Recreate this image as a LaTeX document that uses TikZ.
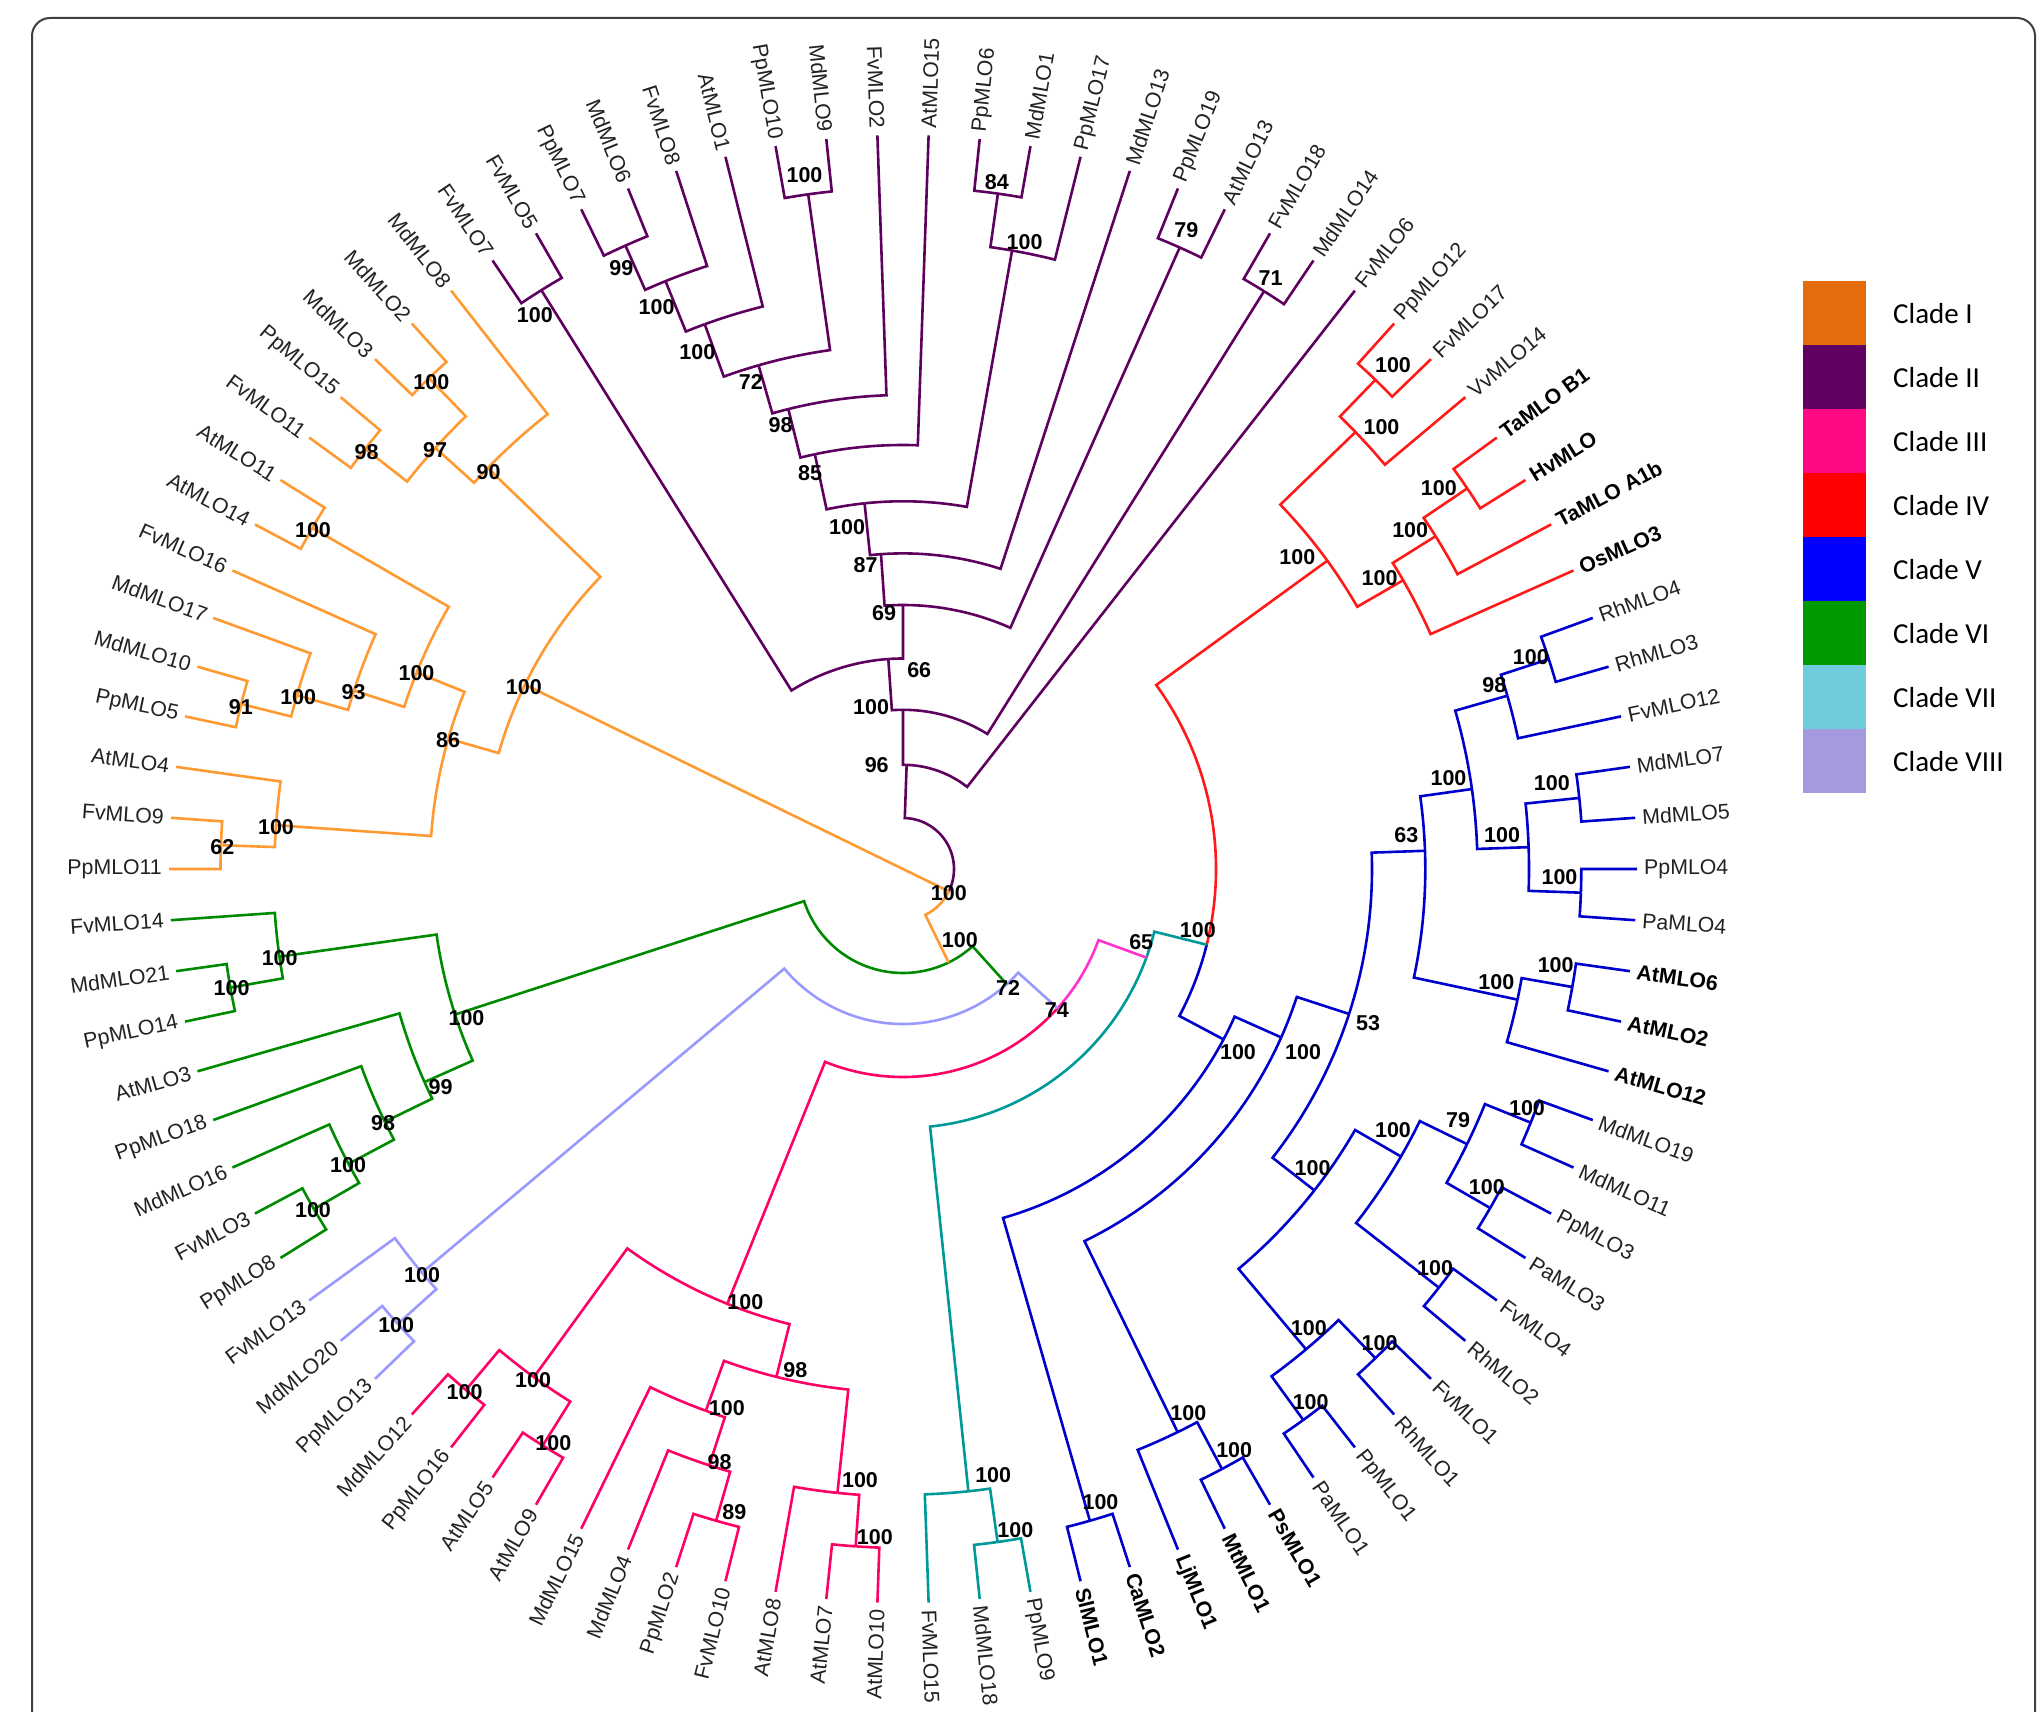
\documentclass[tikz,border=0pt]{standalone}
\usepackage{fontspec}
\setmainfont{Liberation Sans}
\newfontfamily\legfont{Carlito}
\definecolor{tOr}{HTML}{FF9A33}
\definecolor{tPu}{HTML}{5E005E}
\definecolor{tPk}{HTML}{FF0066}
\definecolor{tMg}{HTML}{FF33CC}
\definecolor{tRd}{HTML}{FF1A1A}
\definecolor{tBl}{HTML}{0000CC}
\definecolor{tGn}{HTML}{008A00}
\definecolor{tTl}{HTML}{009999}
\definecolor{tLv}{HTML}{9999FF}
\definecolor{gI}{HTML}{E46C0A}
\definecolor{gII}{HTML}{600060}
\definecolor{gIII}{HTML}{FF0A84}
\definecolor{gIV}{HTML}{FF0000}
\definecolor{gV}{HTML}{0000FF}
\definecolor{gVI}{HTML}{009900}
\definecolor{gVII}{HTML}{70CCDD}
\definecolor{gVIII}{HTML}{A39BDD}
\definecolor{labtext}{HTML}{222222}
\tikzset{
  br/.style={line width=2.6pt},
  cI/.style={br,draw=tOr}, cII/.style={br,draw=tPu}, cIII/.style={br,draw=tPk},
  cMg/.style={br,draw=tMg}, cIV/.style={br,draw=tRd}, cV/.style={br,draw=tBl},
  cVI/.style={br,draw=tGn}, cVII/.style={br,draw=tTl}, cVIII/.style={br,draw=tLv},
  leaflab/.style={font=\fontsize{21.3}{25}\selectfont, inner sep=0pt, text=labtext},
  boldlab/.style={font=\bfseries\fontsize{21.3}{25}\selectfont, text=black},
  bslab/.style={font=\bfseries\fontsize{21.5}{25}\selectfont, inner sep=0pt},
}
\newcommand\leaf[4][]{%
  \pgfmathsetmacro\tLa{180-4*#2}%
  \expandafter\xdef\csname A:#3\endcsname{\tLa}%
  \expandafter\xdef\csname L:#3\endcsname{\tLa}%
  \expandafter\xdef\csname H:#3\endcsname{\tLa}%
  \coordinate (#3) at (\tLa:734);
  \pgfmathparse{and(\tLa>-90,\tLa<90)}%
  \ifdim\pgfmathresult pt>0.5pt
    \node[leaflab,#1,anchor=west,rotate=\tLa] (t#3) at (\tLa:741) {#4};
  \else
    \pgfmathsetmacro\tLb{\tLa+180}%
    \node[leaflab,#1,anchor=east,rotate=\tLb] (t#3) at (\tLa:741) {#4};
  \fi
}
\newcommand\inode[6]{%
  \edef\tA{\csname A:#2\endcsname}%
  \edef\tB{\csname A:#3\endcsname}%
  \pgfmathsetmacro\tLo{min(\csname L:#2\endcsname,\csname L:#3\endcsname)}%
  \pgfmathsetmacro\tHi{max(\csname H:#2\endcsname,\csname H:#3\endcsname)}%
  \pgfmathsetmacro\tM{(\tLo+\tHi)/2}%
  \expandafter\xdef\csname A:#1\endcsname{\tM}%
  \expandafter\xdef\csname L:#1\endcsname{\tLo}%
  \expandafter\xdef\csname H:#1\endcsname{\tHi}%
  \coordinate (#1) at (\tM:#4);
  \draw[#5] (#2) -- (\tA:#4) arc[start angle=\tA, end angle=\tM, radius=#4pt];
  \draw[#6] (#3) -- (\tB:#4) arc[start angle=\tB, end angle=\tM, radius=#4pt];
}
\newcommand\bsv[4]{\node[bslab] (#1) at (#2,-#3) {#4};}
\begin{document}
\begin{tikzpicture}[x=1pt,y=1pt]
\useasboundingbox (0,0) rectangle (2043,-1712);
\fill[white] (0,0) rectangle (2043,-1712);
\draw[line width=2pt, draw=black!75, rounded corners=18pt] (32,-18) rectangle (2035,-1780);
\begin{scope}[shift={(903,-869)}]
% leaves
\leaf{0}{PpMLO11}{PpMLO11}
\leaf{1}{FvMLO9}{FvMLO9}
\leaf{2}{AtMLO4}{AtMLO4}
\leaf{3}{PpMLO5}{PpMLO5}
\leaf{4}{MdMLO10}{MdMLO10}
\leaf{5}{MdMLO17}{MdMLO17}
\leaf{6}{FvMLO16}{FvMLO16}
\leaf{7}{AtMLO14}{AtMLO14}
\leaf{8}{AtMLO11}{AtMLO11}
\leaf{9}{FvMLO11}{FvMLO11}
\leaf{10}{PpMLO15}{PpMLO15}
\leaf{11}{MdMLO3}{MdMLO3}
\leaf{12}{MdMLO2}{MdMLO2}
\leaf{13}{MdMLO8}{MdMLO8}
\leaf{14}{FvMLO7}{FvMLO7}
\leaf{15}{FvMLO5}{FvMLO5}
\leaf{16}{PpMLO7}{PpMLO7}
\leaf{17}{MdMLO6}{MdMLO6}
\leaf{18}{FvMLO8}{FvMLO8}
\leaf{19}{AtMLO1}{AtMLO1}
\leaf{20}{PpMLO10}{PpMLO10}
\leaf{21}{MdMLO9}{MdMLO9}
\leaf{22}{FvMLO2}{FvMLO2}
\leaf{23}{AtMLO15}{AtMLO15}
\leaf{24}{PpMLO6}{PpMLO6}
\leaf{25}{MdMLO1}{MdMLO1}
\leaf{26}{PpMLO17}{PpMLO17}
\leaf{27}{MdMLO13}{MdMLO13}
\leaf{28}{PpMLO19}{PpMLO19}
\leaf{29}{AtMLO13}{AtMLO13}
\leaf{30}{FvMLO18}{FvMLO18}
\leaf{31}{MdMLO14}{MdMLO14}
\leaf{32}{FvMLO6}{FvMLO6}
\leaf{33}{PpMLO12}{PpMLO12}
\leaf{34}{FvMLO17}{FvMLO17}
\leaf{35}{VvMLO14}{VvMLO14}
\leaf[boldlab]{36}{TaMLOB1}{TaMLO B1}
\leaf[boldlab]{37}{HvMLO}{HvMLO}
\leaf[boldlab]{38}{TaMLOA1b}{TaMLO A1b}
\leaf[boldlab]{39}{OsMLO3}{OsMLO3}
\leaf{40}{RhMLO4}{RhMLO4}
\leaf{41}{RhMLO3}{RhMLO3}
\leaf{42}{FvMLO12}{FvMLO12}
\leaf{43}{MdMLO7}{MdMLO7}
\leaf{44}{MdMLO5}{MdMLO5}
\leaf{45}{PpMLO4}{PpMLO4}
\leaf{46}{PaMLO4}{PaMLO4}
\leaf[boldlab]{47}{AtMLO6}{AtMLO6}
\leaf[boldlab]{48}{AtMLO2}{AtMLO2}
\leaf[boldlab]{49}{AtMLO12}{AtMLO12}
\leaf{50}{MdMLO19}{MdMLO19}
\leaf{51}{MdMLO11}{MdMLO11}
\leaf{52}{PpMLO3}{PpMLO3}
\leaf{53}{PaMLO3}{PaMLO3}
\leaf{54}{FvMLO4}{FvMLO4}
\leaf{55}{RhMLO2}{RhMLO2}
\leaf{56}{FvMLO1}{FvMLO1}
\leaf{57}{RhMLO1}{RhMLO1}
\leaf{58}{PpMLO1}{PpMLO1}
\leaf{59}{PaMLO1}{PaMLO1}
\leaf[boldlab]{60}{PsMLO1}{PsMLO1}
\leaf[boldlab]{61}{MtMLO1}{MtMLO1}
\leaf[boldlab]{62}{LjMLO1}{LjMLO1}
\leaf[boldlab]{63}{CaMLO2}{CaMLO2}
\leaf[boldlab]{64}{SlMLO1}{SlMLO1}
\leaf{65}{PpMLO9}{PpMLO9}
\leaf{66}{MdMLO18}{MdMLO18}
\leaf{67}{FvMLO15}{FvMLO15}
\leaf{68}{AtMLO10}{AtMLO10}
\leaf{69}{AtMLO7}{AtMLO7}
\leaf{70}{AtMLO8}{AtMLO8}
\leaf{71}{FvMLO10}{FvMLO10}
\leaf{72}{PpMLO2}{PpMLO2}
\leaf{73}{MdMLO4}{MdMLO4}
\leaf{74}{MdMLO15}{MdMLO15}
\leaf{75}{AtMLO9}{AtMLO9}
\leaf{76}{AtMLO5}{AtMLO5}
\leaf{77}{PpMLO16}{PpMLO16}
\leaf{78}{MdMLO12}{MdMLO12}
\leaf{79}{PpMLO13}{PpMLO13}
\leaf{80}{MdMLO20}{MdMLO20}
\leaf{81}{FvMLO13}{FvMLO13}
\leaf{82}{PpMLO8}{PpMLO8}
\leaf{83}{FvMLO3}{FvMLO3}
\leaf{84}{MdMLO16}{MdMLO16}
\leaf{85}{PpMLO18}{PpMLO18}
\leaf{86}{AtMLO3}{AtMLO3}
\leaf{87}{PpMLO14}{PpMLO14}
\leaf{88}{MdMLO21}{MdMLO21}
\leaf{89}{FvMLO14}{FvMLO14}
% Clade I
\inode{o62}{FvMLO9}{PpMLO11}{682.5}{cI}{cI}
\inode{o100a}{AtMLO4}{o62}{628.5}{cI}{cI}
\inode{o91}{PpMLO5}{MdMLO10}{682}{cI}{cI}
\inode{o100b}{MdMLO17}{o91}{630.5}{cI}{cI}
\inode{o93}{FvMLO16}{o100b}{577.3}{cI}{cI}
\inode{o100c}{AtMLO14}{AtMLO11}{682}{cI}{cI}
\inode{o100d}{o100c}{o93}{524.5}{cI}{cI}
\inode{o86}{o100d}{o100a}{473}{cI}{cI}
\inode{o98}{FvMLO11}{PpMLO15}{682.5}{cI}{cI}
\inode{o100e}{MdMLO3}{MdMLO2}{682.3}{cI}{cI}
\inode{o97}{o98}{o100e}{629.3}{cI}{cI}
\inode{o90}{o97}{MdMLO8}{577.2}{cI}{cI}
\inode{o100f}{o90}{o86}{420.6}{cI}{cI}
% Clade II
\inode{p100a}{FvMLO7}{FvMLO5}{682.5}{cII}{cII}
\inode{p99}{PpMLO7}{MdMLO6}{682.4}{cII}{cII}
\inode{p100b}{p99}{FvMLO8}{634}{cII}{cII}
\inode{p100c}{p100b}{AtMLO1}{579.7}{cII}{cII}
\inode{p100d}{PpMLO10}{MdMLO9}{681.3}{cII}{cII}
\inode{p72}{p100c}{p100d}{524}{cII}{cII}
\inode{p98}{p72}{FvMLO2}{474}{cII}{cII}
\inode{p85}{p98}{AtMLO15}{424}{cII}{cII}
\inode{p84}{PpMLO6}{MdMLO1}{682}{cII}{cII}
\inode{p100f}{p84}{PpMLO17}{628}{cII}{cII}
\inode{p100e}{p85}{p100f}{367.7}{cII}{cII}
\inode{p87}{p100e}{MdMLO13}{315.6}{cII}{cII}
\inode{p79}{PpMLO19}{AtMLO13}{680.3}{cII}{cII}
\inode{p69}{p87}{p79}{264}{cII}{cII}
\inode{p66}{p100a}{p69}{210.5}{cII}{cII}
\inode{p71}{FvMLO18}{MdMLO14}{681.3}{cII}{cII}
\inode{p100g}{p66}{p71}{159.2}{cII}{cII}
\inode{p96}{p100g}{FvMLO6}{104.2}{cII}{cII}
% Clade IV
\inode{r100a}{PpMLO12}{FvMLO17}{680}{cIV}{cIV}
\inode{r100b}{r100a}{VvMLO14}{629}{cIV}{cIV}
\inode{r100c}{TaMLOB1}{HvMLO}{680.6}{cIV}{cIV}
\inode{r100d}{r100c}{TaMLOA1b}{628}{cIV}{cIV}
\inode{r100e}{r100d}{OsMLO3}{577.5}{cIV}{cIV}
\inode{r100f}{r100b}{r100e}{524.5}{cIV}{cIV}
% Clade V
\inode{b100a}{RhMLO4}{RhMLO3}{679}{cV}{cV}
\inode{b98}{b100a}{FvMLO12}{628.7}{cV}{cV}
\inode{b100b}{MdMLO7}{MdMLO5}{680}{cV}{cV}
\inode{b100c}{PpMLO4}{PaMLO4}{678.3}{cV}{cV}
\inode{b100d}{b100b}{b100c}{626}{cV}{cV}
\inode{b100e}{b98}{b100d}{574.5}{cV}{cV}
\inode{b100f}{AtMLO6}{AtMLO2}{679.6}{cV}{cV}
\inode{b100g}{b100f}{AtMLO12}{628.2}{cV}{cV}
\inode{b63}{b100e}{b100g}{522.3}{cV}{cV}
\inode{b100h}{MdMLO19}{MdMLO11}{677}{cV}{cV}
\inode{b100i}{PpMLO3}{PaMLO3}{678}{cV}{cV}
\inode{b79}{b100h}{b100i}{627.6}{cV}{cV}
\inode{b100j}{FvMLO4}{RhMLO2}{680}{cV}{cV}
\inode{b100k}{b79}{b100j}{575}{cV}{cV}
\inode{b100l}{FvMLO1}{RhMLO1}{680}{cV}{cV}
\inode{b100m}{PpMLO1}{PaMLO1}{681}{cV}{cV}
\inode{b100n}{b100l}{b100m}{627}{cV}{cV}
\inode{bV2}{b100k}{b100n}{522}{cV}{cV}
\inode{bW}{b63}{bV2}{469}{cV}{cV}
\inode{bLg2}{PsMLO1}{MtMLO1}{679.5}{cV}{cV}
\inode{bLg}{bLg2}{LjMLO1}{626.5}{cV}{cV}
\inode{bZ}{bW}{bLg}{414}{cV}{cV}
\inode{bSl}{CaMLO2}{SlMLO1}{678}{cV}{cV}
\inode{bBR}{bZ}{bSl}{363}{cV}{cV}
% Clade VII
\inode{t100a}{MdMLO18}{PpMLO9}{679.6}{cVII}{cVII}
\inode{t100b}{FvMLO15}{t100a}{625.7}{cVII}{cVII}
% Clade III
\inode{k100f}{AtMLO7}{AtMLO10}{679}{cIII}{cIII}
\inode{k100e}{AtMLO8}{k100f}{627.3}{cIII}{cIII}
\inode{k89}{PpMLO2}{FvMLO10}{678}{cIII}{cIII}
\inode{k98a}{MdMLO4}{k89}{627}{cIII}{cIII}
\inode{k100d}{MdMLO15}{k98a}{576.5}{cIII}{cIII}
\inode{k98b}{k100d}{k100e}{523.4}{cIII}{cIII}
\inode{k100a}{MdMLO12}{PpMLO16}{680}{cIII}{cIII}
\inode{k100b}{AtMLO5}{AtMLO9}{679.8}{cIII}{cIII}
\inode{k100c}{k100a}{k100b}{628}{cIII}{cIII}
\inode{k100g}{k100c}{k98b}{469}{cIII}{cIII}
% Clade VIII
\inode{l100a}{PpMLO13}{MdMLO20}{679.8}{cVIII}{cVIII}
\inode{l100b}{l100a}{FvMLO13}{628}{cVIII}{cVIII}
% Clade VI
\inode{g100a}{MdMLO21}{PpMLO14}{683}{cVI}{cVI}
\inode{g100b}{FvMLO14}{g100a}{629.7}{cVI}{cVI}
\inode{g100c}{FvMLO3}{PpMLO8}{680.2}{cVI}{cVI}
\inode{g100d}{MdMLO16}{g100c}{628}{cVI}{cVI}
\inode{g98}{PpMLO18}{g100d}{576.5}{cVI}{cVI}
\inode{g99}{AtMLO3}{g98}{523.8}{cVI}{cVI}
\inode{g100e}{g100b}{g99}{471}{cVI}{cVI}
% backbone
\inode{nF}{bBR}{r100f}{313}{cV}{cIV}
\inode{nE}{t100b}{nF}{259}{cVII}{cVII}
\inode{nD}{k100g}{nE}{208}{cIII}{cMg}
\inode{nC}{l100b}{nD}{155}{cVIII}{cVIII}
\inode{nB}{g100e}{nC}{104}{cVI}{cVI}
\inode{nQ}{p96}{nB}{51}{cII}{cI}
\coordinate (root) at (0,0);
\draw[cI] (o100f) -- (root) -- (nQ);
\end{scope}
% bootstrap values
\bsv{vo62}{222.3}{846.7}{62}
\bsv{vo100a}{276}{826.7}{100}
\bsv{vo91}{240.8}{706.7}{91}
\bsv{vo100b}{298.2}{696.7}{100}
\bsv{vo93}{353.7}{691.7}{93}
\bsv{vo100c}{313}{530}{100}
\bsv{vo100d}{416.5}{673.3}{100}
\bsv{vo86}{448}{740}{86}
\bsv{vo100e}{431.3}{381.7}{100}
\bsv{vo98}{366.6}{451.7}{98}
\bsv{vo97}{435}{450}{97}
\bsv{vo90}{488.7}{471.7}{90}
\bsv{vo100f}{523.8}{686.7}{100}
\bsv{vp100a}{534.9}{315}{100}
\bsv{vp99}{621.4}{268.3}{99}
\bsv{vp100b}{656.6}{306.7}{100}
\bsv{vp100c}{697.3}{351.7}{100}
\bsv{vp100d}{804.5}{175}{100}
\bsv{vp72}{750.9}{381.7}{72}
\bsv{vp98}{780.5}{425}{98}
\bsv{vp85}{810.1}{473.3}{85}
\bsv{vp84}{996.9}{181.7}{84}
\bsv{vp100f}{1024.6}{241.7}{100}
\bsv{vp100e}{847.1}{526.7}{100}
\bsv{vp87}{865.6}{565}{87}
\bsv{vp79}{1186.4}{230}{79}
\bsv{vp69}{884.1}{613.3}{69}
\bsv{vp66}{919.2}{670}{66}
\bsv{vp71}{1270.5}{278.3}{71}
\bsv{vp100g}{871.1}{706.7}{100}
\bsv{vp96}{876.7}{765}{96}
\bsv{vQ}{948.8}{893.3}{100}
\bsv{vB}{959.9}{940}{100}
\bsv{vC}{1008}{988.3}{72}
\bsv{vD}{1056.8}{1010}{74}
\bsv{vE}{1141.2}{941.7}{65}
\bsv{vF}{1197.8}{930}{100}
\bsv{vg100a}{231.6}{988.3}{100}
\bsv{vg100b}{279.7}{958.3}{100}
\bsv{vg100c}{313}{1210}{100}
\bsv{vg100d}{348.1}{1165}{100}
\bsv{vg98}{383.2}{1123.3}{98}
\bsv{vg99}{440.6}{1086.7}{99}
\bsv{vg100e}{466.5}{1018.3}{100}
\bsv{vl100a}{396.2}{1325}{100}
\bsv{vl100b}{422.1}{1275}{100}
\bsv{vk100a}{464.6}{1391.7}{100}
\bsv{vk100b}{553.4}{1443.3}{100}
\bsv{vk100c}{533.1}{1380}{100}
\bsv{vk89}{734.3}{1511.7}{89}
\bsv{vk98a}{719.5}{1461.7}{98}
\bsv{vk100d}{726.9}{1408.3}{100}
\bsv{vk100e}{860}{1480}{100}
\bsv{vk100f}{874.8}{1536.7}{100}
\bsv{vk98b}{795.3}{1370}{98}
\bsv{vk100g}{745.4}{1301.7}{100}
\bsv{vt100a}{1015.4}{1530}{100}
\bsv{vt100b}{993.2}{1475}{100}
\bsv{vr100a}{1393}{365}{100}
\bsv{vr100b}{1381.5}{426.7}{100}
\bsv{vr100c}{1438.9}{488.3}{100}
\bsv{vr100d}{1410.2}{530}{100}
\bsv{vr100e}{1379.6}{578.3}{100}
\bsv{vr100f}{1297.3}{556.7}{100}
\bsv{vb100a}{1530.8}{656.7}{100}
\bsv{vb98}{1494.4}{685}{98}
\bsv{vb100b}{1551.8}{783.3}{100}
\bsv{vb100c}{1559.5}{876.7}{100}
\bsv{vb100d}{1502.1}{835}{100}
\bsv{vb100e}{1448.5}{778.3}{100}
\bsv{vb100f}{1555.7}{965}{100}
\bsv{vb100g}{1496.3}{981.7}{100}
\bsv{vb63}{1406.4}{835}{63}
\bsv{vb100h}{1527}{1108.3}{100}
\bsv{vb100i}{1486.8}{1186.7}{100}
\bsv{vb79}{1458.1}{1120}{79}
\bsv{vb100j}{1435.1}{1268.3}{100}
\bsv{vb100k}{1393}{1130}{100}
\bsv{vb100l}{1379.6}{1343.3}{100}
\bsv{vb100m}{1310.7}{1401.7}{100}
\bsv{vb100n}{1308.8}{1328.3}{100}
\bsv{vbV2}{1312.6}{1168.3}{100}
\bsv{vbW}{1368.1}{1023.3}{53}
\bsv{vbZ}{1303.1}{1051.7}{100}
\bsv{vbBR}{1238}{1051.7}{100}
\bsv{vbLg}{1188.3}{1413.3}{100}
\bsv{vbLg2}{1234.2}{1450}{100}
\bsv{vbSl}{1100.5}{1501.7}{100}
% legend
\foreach \clr/\txt [count=\k from 0] in {gI/Clade I,gII/Clade II,gIII/Clade III,gIV/Clade IV,gV/Clade V,gVI/Clade VI,gVII/Clade VII,gVIII/Clade VIII}{
  \fill[\clr] (1803.4,-281.4-64*\k) rectangle (1866,-345.4-64*\k);
  \node[anchor=west,inner sep=0pt,font=\legfont\fontsize{29}{34}\selectfont] (leg\k) at (1893,-313.4-64*\k) {\txt};
}
\end{tikzpicture}
\end{document}
